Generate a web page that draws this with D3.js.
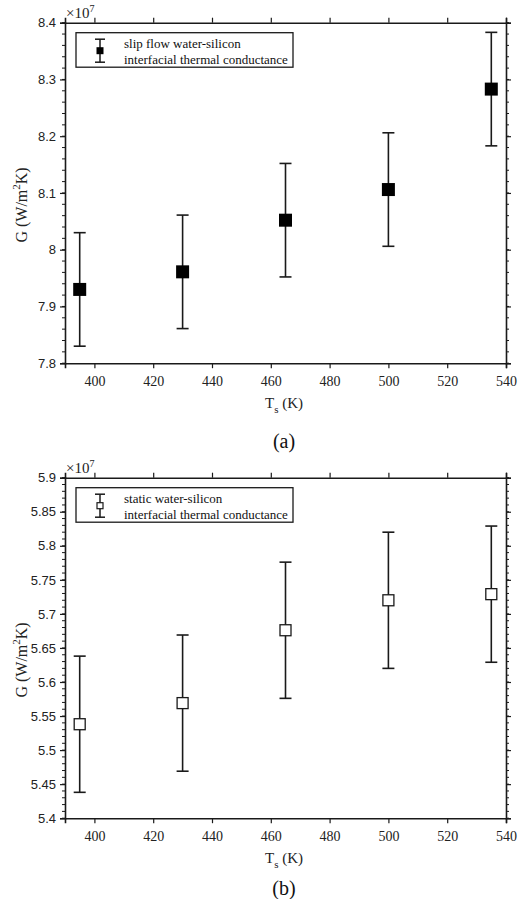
<!DOCTYPE html>
<html>
<head>
<meta charset="utf-8">
<script src="https://cdn.jsdelivr.net/npm/d3@7"></script>
<style>
  body { margin: 0; background: #fff; }
  svg { display: block; }
  .tick-y { font-family: "Liberation Sans", Arial, sans-serif; font-size: 13px; fill: #222; }
  .tick-x { font-family: "Liberation Serif", serif; font-size: 14px; fill: #222; }
  .lab { font-family: "Liberation Serif", serif; font-size: 15px; fill: #222; }
  .ylab { font-family: "Liberation Serif", serif; font-size: 16px; fill: #222; }
  .leg { font-family: "Liberation Serif", serif; font-size: 13px; fill: #111; }
  .cap { font-family: "Liberation Serif", serif; font-size: 20px; fill: #111; }
</style>
</head>
<body>
<svg id="chart" width="520" height="899"></svg>
<script>
// temperatures (K)
const tempK = [395, 430, 465, 500, 535];

// panel (a) slip flow, G in 1e7 W/m2K
const slipG = [7.930, 7.961, 8.052, 8.106, 8.283];
const slipErr = [0.1, 0.1, 0.1, 0.1, 0.1];

// panel (b) static
const staticG = [5.538, 5.569, 5.676, 5.720, 5.729];
const staticErr = [0.1, 0.1, 0.1, 0.1, 0.1];

const xTicks = [400, 420, 440, 460, 480, 500, 520, 540];
const slipTicks = [7.8, 7.9, 8, 8.1, 8.2, 8.3, 8.4];
const staticTicks = [5.4, 5.45, 5.5, 5.55, 5.6, 5.65, 5.7, 5.75, 5.8, 5.85, 5.9];

const svg = d3.select("#chart");
const ink = "#1a1a1a";

function panel(opt) {
  const left = 65, right = 506;
  const top = opt.top, bottom = opt.top + 340.5;

  const x = d3.scaleLinear().domain([390, 540]).range([left, right]);
  const y = d3.scaleLinear().domain(opt.domain).range([bottom, top]);

  const g = svg.append("g");

  // minor ticks on left and right
  const minor = d3.range(opt.domain[0], opt.domain[1] + 1e-9, opt.minorStep);
  minor.forEach(v => {
    g.append("line").attr("x1", left - 3).attr("x2", left).attr("y1", y(v)).attr("y2", y(v))
      .attr("stroke", ink).attr("stroke-width", 1);
    g.append("line").attr("x1", right).attr("x2", right + 3).attr("y1", y(v)).attr("y2", y(v))
      .attr("stroke", ink).attr("stroke-width", 1);
  });

  // axes (outward ticks on all four sides)
  const yl = g.append("g").attr("transform", `translate(${left},0)`)
    .call(d3.axisLeft(y).tickValues(opt.ticks).tickSize(5).tickPadding(4)
      .tickFormat(d => String(+d.toFixed(2))));
  const yr = g.append("g").attr("transform", `translate(${right},0)`)
    .call(d3.axisRight(y).tickValues(opt.ticks).tickSize(5).tickFormat(""));
  const xb = g.append("g").attr("transform", `translate(0,${bottom})`)
    .call(d3.axisBottom(x).tickValues(xTicks).tickSize(5).tickPadding(8));
  const xt = g.append("g").attr("transform", `translate(0,${top})`)
    .call(d3.axisTop(x).tickValues(xTicks).tickSize(5).tickFormat(""));

  [yl, yr, xb, xt].forEach(a => {
    a.select(".domain").attr("stroke", ink).attr("stroke-width", 1.6);
    a.selectAll(".tick line").attr("stroke", ink).attr("stroke-width", 1.2);
  });
  yl.selectAll("text").attr("class", "tick-y").attr("font-family", null).attr("font-size", null);
  xb.selectAll("text").attr("class", "tick-x").attr("font-family", null).attr("font-size", null);

  // x10^7 multiplier
  const m = g.append("text").attr("class", "lab").attr("x", 66).attr("y", top - 5);
  m.append("tspan").text("\u00d710");
  m.append("tspan").attr("dy", -6).attr("font-size", 10).text("7");

  // y label
  const yt = g.append("text").attr("class", "ylab").attr("text-anchor", "middle")
    .attr("transform", `translate(27,${(top + bottom) / 2 + 12}) rotate(-90)`);
  yt.append("tspan").text("G (W/m");
  yt.append("tspan").attr("dy", -7).attr("font-size", 11).text("2");
  yt.append("tspan").attr("dy", 7).text("K)");

  // x label
  const xl = g.append("text").attr("class", "lab").attr("text-anchor", "middle")
    .attr("x", 284).attr("y", bottom + 45);
  xl.append("tspan").text("T");
  xl.append("tspan").attr("dy", 5).attr("font-size", 11).text("s");
  xl.append("tspan").attr("dy", -5).text(" (K)");

  // caption
  g.append("text").attr("class", "cap").attr("text-anchor", "middle")
    .attr("x", 284).attr("y", bottom + opt.capOff).text(opt.caption);

  // error bars
  const pts = tempK.map((t, i) => ({ t: t, v: opt.vals[i], e: opt.errs[i] }));
  const eb = g.append("g").selectAll("g").data(pts).enter().append("g")
    .attr("stroke", ink).attr("stroke-width", 1.6);
  eb.append("line").attr("x1", d => x(d.t)).attr("x2", d => x(d.t))
    .attr("y1", d => y(d.v - d.e)).attr("y2", d => y(d.v + d.e));
  eb.append("line").attr("x1", d => x(d.t) - 6).attr("x2", d => x(d.t) + 6)
    .attr("y1", d => y(d.v + d.e)).attr("y2", d => y(d.v + d.e));
  eb.append("line").attr("x1", d => x(d.t) - 6).attr("x2", d => x(d.t) + 6)
    .attr("y1", d => y(d.v - d.e)).attr("y2", d => y(d.v - d.e));

  const s = opt.filled ? 13 : 11;
  g.append("g").selectAll("rect").data(pts).enter().append("rect")
    .attr("x", d => x(d.t) - s / 2).attr("y", d => y(d.v) - s / 2)
    .attr("width", s).attr("height", s)
    .attr("fill", opt.filled ? "#000" : "#fff")
    .attr("stroke", ink).attr("stroke-width", opt.filled ? 0 : 1.3);

  // legend
  const lg = g.append("g").attr("transform", `translate(76,${top + 10})`);
  lg.append("rect").attr("width", 217).attr("height", 34.5)
    .attr("fill", "#fff").attr("stroke", ink).attr("stroke-width", 1.3);
  const lx = 24;
  lg.append("line").attr("x1", lx).attr("x2", lx).attr("y1", 6.5).attr("y2", 29.5)
    .attr("stroke", ink).attr("stroke-width", 1.5);
  [6.5, 29.5].forEach(yy => lg.append("line").attr("x1", lx - 5).attr("x2", lx + 5)
    .attr("y1", yy).attr("y2", yy).attr("stroke", ink).attr("stroke-width", 1.5));
  const ls = opt.filled ? 7 : 6;
  lg.append("rect").attr("x", lx - ls / 2).attr("y", 18 - ls / 2).attr("width", ls).attr("height", ls)
    .attr("fill", opt.filled ? "#000" : "#fff").attr("stroke", ink).attr("stroke-width", opt.filled ? 0 : 1.2);
  lg.append("text").attr("class", "leg").attr("x", 48).attr("y", 15).text(opt.legend[0]);
  lg.append("text").attr("class", "leg").attr("x", 48).attr("y", 31).text(opt.legend[1]);
}

panel({
  top: 22.7, domain: [7.8, 8.4], ticks: slipTicks, minorStep: 0.02,
  vals: slipG, errs: slipErr, filled: true, caption: "(a)", capOff: 85,
  legend: ["slip flow water-silicon", "interfacial thermal conductance"]
});
panel({
  top: 477.7, domain: [5.4, 5.9], ticks: staticTicks, minorStep: 0.01,
  vals: staticG, errs: staticErr, filled: false, caption: "(b)", capOff: 77,
  legend: ["static water-silicon", "interfacial thermal conductance"]
});
</script>
</body>
</html>
